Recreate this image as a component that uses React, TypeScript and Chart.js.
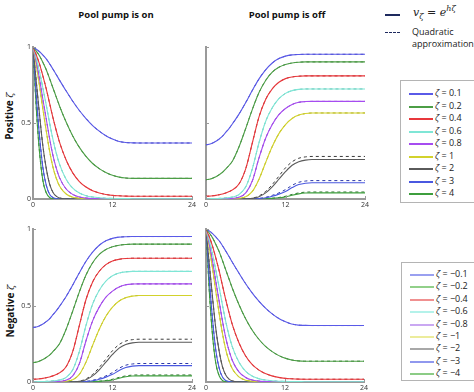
import React, { useEffect, useRef } from "react";
import { Chart, registerables } from "chart.js";
Chart.register(...registerables);

// ---------- data ----------
const times = [0, 0.5, 1, 1.5, 2, 2.5, 3, 3.5, 4, 5, 6, 7, 8, 9, 10, 11, 12, 13, 14, 15, 16, 20, 24];
const xTicks = [0, 12, 24];
const yTicks = [0, 0.5, 1];
const yTickLabels = ["0", "0.5", "1"];
const zetaPos = ["0.1", "0.2", "0.4", "0.6", "0.8", "1", "2", "3", "4"];
const zetaNeg = ["\u22120.1", "\u22120.2", "\u22120.4", "\u22120.6", "\u22120.8", "\u22121", "\u22122", "\u22123", "\u22124"];

// decaying curves (pump on / positive zeta, pump off / negative zeta)
const decayZ01 = [1, .987, .970, .948, .923, .891, .856, .820, .783, .712, .644, .583, .530, .484, .447, .417, .395, .379, .372, .370, .369, .369, .369];
const decayZ02 = [1, .974, .942, .899, .852, .794, .733, .673, .613, .507, .415, .340, .281, .234, .200, .174, .156, .144, .138, .136, .136, .136, .136];
const decayZ04 = [1, .949, .887, .809, .726, .631, .538, .453, .375, .257, .172, .115, .079, .055, .040, .030, .024, .021, .019, .018, .018, .018, .018];
const decayZ06 = [1, .925, .835, .728, .619, .502, .395, .304, .230, .130, .071, .039, .022, .013, .008, .005, .004, .003, .003, .002, .002, .002, .002];
const decayZ08 = [1, .901, .787, .654, .527, .399, .289, .205, .141, .066, .030, .013, .006, .003, .002, .001, .001, 0, 0, 0, 0, 0, 0];
const decayZ1 = [1, .878, .741, .589, .449, .317, .212, .138, .086, .033, .012, .005, .002, .001, 0, 0, 0, 0, 0, 0, 0, 0, 0];
const decayZ2 = [1, .771, .549, .346, .202, .100, .045, .019, .007, .001, 0, 0, 0, 0, 0, 0, 0, 0, 0, 0, 0, 0, 0];
const decayZ3 = [1, .677, .407, .204, .091, .032, .010, .003, .001, 0, 0, 0, 0, 0, 0, 0, 0, 0, 0, 0, 0, 0, 0];
const decayZ4 = [1, .595, .301, .120, .041, .010, .002, .001, 0, 0, 0, 0, 0, 0, 0, 0, 0, 0, 0, 0, 0, 0, 0];

// rising curves (pump off / positive zeta, pump on / negative zeta)
const riseZ01 = [.357, .360, .368, .380, .395, .413, .440, .465, .495, .560, .635, .715, .790, .850, .895, .924, .940, .948, .951, .952, .952, .952, .952];
const riseZ02 = [.127, .130, .137, .147, .160, .176, .198, .222, .250, .345, .465, .590, .700, .780, .835, .867, .885, .895, .900, .902, .902, .902, .902];
const riseZ04 = [.018, .019, .021, .024, .028, .033, .040, .049, .060, .100, .200, .370, .540, .655, .725, .768, .792, .803, .808, .810, .810, .810, .810];
const riseZ06 = [.002, .002, .003, .003, .004, .005, .007, .009, .013, .030, .080, .200, .370, .510, .600, .660, .695, .713, .721, .724, .724, .724, .724];
const riseZ08 = [0, 0, 0, .001, .001, .001, .002, .003, .004, .012, .040, .120, .270, .400, .490, .555, .595, .622, .636, .641, .642, .642, .642];
const riseZ1 = [0, 0, 0, 0, 0, 0, .001, .001, .002, .005, .015, .050, .130, .240, .345, .430, .490, .530, .552, .562, .566, .566, .566];
const riseZ2 = [0, 0, 0, 0, 0, 0, 0, 0, 0, 0, .001, .004, .015, .040, .080, .130, .180, .222, .245, .256, .260, .260, .260];
const riseZ3 = [0, 0, 0, 0, 0, 0, 0, 0, 0, 0, 0, .001, .003, .008, .018, .032, .050, .075, .095, .104, .107, .107, .107];
const riseZ4 = [0, 0, 0, 0, 0, 0, 0, 0, 0, 0, 0, 0, 0, .002, .004, .008, .014, .025, .034, .039, .040, .040, .040];

// quadratic approximations that visibly differ (rising panels)
const riseQuadZ2 = [0, 0, 0, 0, 0, 0, 0, 0, 0, 0, .001, .005, .020, .050, .095, .150, .205, .245, .268, .277, .280, .280, .280];
const riseQuadZ3 = [0, 0, 0, 0, 0, 0, 0, 0, 0, 0, 0, .001, .004, .011, .024, .040, .062, .090, .110, .118, .121, .121, .121];
const riseQuadZ4 = [0, 0, 0, 0, 0, 0, 0, 0, 0, 0, 0, 0, 0, .002, .005, .010, .018, .030, .040, .045, .046, .046, .046];

const decayCurves = [decayZ01, decayZ02, decayZ04, decayZ06, decayZ08, decayZ1, decayZ2, decayZ3, decayZ4];
const riseCurves = [riseZ01, riseZ02, riseZ04, riseZ06, riseZ08, riseZ1, riseZ2, riseZ3, riseZ4];
const riseQuad = [riseZ01, riseZ02, riseZ04, riseZ06, riseZ08, riseZ1, riseQuadZ2, riseQuadZ3, riseQuadZ4];

// ---------- style ----------
const lineColors = ["#5a5ae8", "#4c9e46", "#e8383c", "#7fe6d6", "#a64cf0", "#d2d22c", "#5a5a5a", "#4a58e0", "#3e9e3e"];
const dashColors = ["#3838b0", "#2f6e2c", "#a82428", "#4fb0a2", "#7028b0", "#9a9a18", "#3a3a3a", "#2c38a8", "#276e27"];
const negLegendColors = ["#9aa0f0", "#92d08a", "#f09090", "#b4f2ea", "#caa8f2", "#ecec9c", "#a8a8a8", "#9098ee", "#8ccc86"];
const axisColor = "#9a9a9a";
const sans = "'Open Sans', 'Liberation Sans', Arial, sans-serif";

const inTicks = {
  id: "inTicks",
  afterDraw(chart: any) {
    const { ctx, chartArea } = chart;
    const xs = chart.scales.x;
    const ys = chart.scales.y;
    ctx.save();
    ctx.strokeStyle = axisColor;
    ctx.lineWidth = 1;
    xTicks.forEach((v) => {
      const px = Math.round(xs.getPixelForValue(v)) + 0.5;
      ctx.beginPath();
      ctx.moveTo(px, chartArea.bottom);
      ctx.lineTo(px, chartArea.bottom - 3);
      ctx.stroke();
    });
    yTicks.forEach((v) => {
      const py = Math.round(ys.getPixelForValue(v)) + 0.5;
      ctx.beginPath();
      ctx.moveTo(chartArea.left, py);
      ctx.lineTo(chartArea.left + 3, py);
      ctx.stroke();
    });
    ctx.restore();
  },
};

type PanelProps = { x0: number; x1: number; y0: number; y1: number; curves: number[][]; approx: number[][]; showY: boolean };

function Panel({ x0, x1, y0, y1, curves, approx, showY }: PanelProps) {
  const ref = useRef<HTMLCanvasElement>(null);
  const padL = 18, padR = 8, padT = 6, padB = 14;
  const W = x1 - x0 + padL + padR;
  const H = y1 - y0 + padT + padB;
  useEffect(() => {
    const datasets: any[] = [];
    curves.forEach((c, i) => {
      datasets.push({
        data: times.map((t, j) => ({ x: t, y: c[j] })),
        borderColor: lineColors[i],
        borderWidth: 1.1,
        pointRadius: 0,
        cubicInterpolationMode: "monotone",
        fill: false,
      });
    });
    approx.forEach((c, i) => {
      datasets.push({
        data: times.map((t, j) => ({ x: t, y: c[j] })),
        borderColor: dashColors[i],
        borderWidth: 1,
        borderDash: [3, 3],
        pointRadius: 0,
        cubicInterpolationMode: "monotone",
        fill: false,
      });
    });
    const chart = new Chart(ref.current as HTMLCanvasElement, {
      type: "line",
      data: { datasets },
      options: {
        animation: false,
        responsive: false,
        maintainAspectRatio: false,
        events: [],
        layout: { padding: { left: 0, right: padR, top: padT, bottom: 0 } },
        plugins: { legend: { display: false }, tooltip: { enabled: false } },
        scales: {
          x: {
            type: "linear",
            min: 0,
            max: 24,
            afterBuildTicks: (s: any) => { s.ticks = xTicks.map((v) => ({ value: v })); },
            afterFit: (s: any) => { s.height = padB; },
            ticks: { font: { size: 7, family: sans }, color: "#333", padding: 2, maxRotation: 0, callback: (v: any) => String(v) },
            grid: { display: false, drawTicks: false },
            border: { display: true, color: axisColor, width: 2 },
          },
          y: {
            type: "linear",
            min: 0,
            max: 1,
            afterBuildTicks: (s: any) => { s.ticks = yTicks.map((v) => ({ value: v })); },
            afterFit: (s: any) => { s.width = padL; },
            ticks: {
              display: showY,
              font: { size: 7, family: sans },
              color: "#333",
              padding: 2,
              callback: (v: any) => yTickLabels[yTicks.indexOf(Number(v))] ?? String(v),
            },
            grid: { display: false, drawTicks: false },
            border: { display: true, color: axisColor, width: 2 },
          },
        },
      } as any,
      plugins: [inTicks],
    });
    return () => chart.destroy();
  }, []);
  return (
    <canvas
      ref={ref}
      width={W}
      height={H}
      style={{ position: "absolute", left: x0 - padL, top: y0 - padT, width: W, height: H }}
    />
  );
}

function LegendBox({ left, top, bottom, labels, colors, rowTop, rowStep }: any) {
  return (
    <>
      <div style={{ position: "absolute", left, top, width: 90, height: bottom - top, border: "1px solid #b4b4b4", boxSizing: "border-box" }} />
      {labels.map((lab: string, i: number) => {
        const y = Math.round(rowTop + i * rowStep);
        return (
          <React.Fragment key={i}>
            <div style={{ position: "absolute", left: left + 9, top: y, width: 24, height: 1.5, background: colors[i] }} />
            <div style={{ position: "absolute", left: left + 35, top: y - 6, fontSize: 9, fontFamily: sans, color: "#222", whiteSpace: "nowrap", lineHeight: "12px" }}>
              <span style={{ fontStyle: "italic" }}>{"\u03b6"}</span> = {lab}
            </div>
          </React.Fragment>
        );
      })}
    </>
  );
}

export default function App() {
  const title = { position: "absolute" as const, top: 8, fontFamily: sans, fontWeight: 700, fontSize: 9.5, color: "#111", whiteSpace: "nowrap" as const, transform: "translateX(-50%)" };
  const rowLab = { position: "absolute" as const, fontFamily: sans, fontWeight: 700, fontSize: 10, color: "#111", whiteSpace: "nowrap" as const, transform: "translate(-50%,-50%) rotate(-90deg)" };
  return (
    <div style={{ position: "absolute", left: 0, top: 0, width: 474, height: 392, overflow: "hidden", background: "#fff" }}>
      <div style={{ ...title, left: 116 }}>Pool pump is on</div>
      <div style={{ ...title, left: 287 }}>Pool pump is off</div>
      <div style={{ ...rowLab, left: 9, top: 116 }}>Positive <span style={{ fontFamily: "'DejaVu Serif', serif", fontStyle: "italic", fontWeight: 400 }}>{"\u03b6"}</span></div>
      <div style={{ ...rowLab, left: 10, top: 311 }}>Negative <span style={{ fontFamily: "'DejaVu Serif', serif", fontStyle: "italic", fontWeight: 400 }}>{"\u03b6"}</span></div>

      <Panel x0={33} x1={192} y0={47} y1={199} curves={decayCurves} approx={decayCurves} showY={true} />
      <Panel x0={206} x1={365} y0={47} y1={199} curves={riseCurves} approx={riseQuad} showY={false} />
      <Panel x0={33} x1={192} y0={229} y1={382} curves={riseCurves} approx={riseQuad} showY={true} />
      <Panel x0={206} x1={364} y0={229} y1={382} curves={decayCurves} approx={decayCurves} showY={false} />

      {/* top legend */}
      <div style={{ position: "absolute", left: 385, top: 14, width: 15, height: 1.5, background: "#1e2a5e" }} />
      <div style={{ position: "absolute", left: 413, top: 5, fontFamily: "'DejaVu Serif', 'Liberation Serif', serif", fontSize: 11, color: "#222", whiteSpace: "nowrap", lineHeight: "16px" }}>
        <i>v</i><span style={{ fontSize: 8, position: "relative", top: 3 }}><i>{"\u03b6"}</i></span> = <i>e</i>
        <span style={{ fontSize: 8, position: "relative", top: -5 }}><i>{"h\u03b6"}</i></span>
      </div>
      <div style={{ position: "absolute", left: 385, top: 32, width: 15, borderTop: "1.5px dashed #1e2a5e" }} />
      <div style={{ position: "absolute", left: 412, top: 26, fontFamily: sans, fontSize: 9, color: "#222", lineHeight: "12px", whiteSpace: "nowrap" }}>
        Quadratic<br />approximation
      </div>

      <LegendBox left={400} top={80} bottom={203} labels={zetaPos} colors={lineColors} rowTop={93} rowStep={12.5} />
      <LegendBox left={401} top={262} bottom={381} labels={zetaNeg} colors={negLegendColors} rowTop={274} rowStep={12.4} />
    </div>
  );
}
